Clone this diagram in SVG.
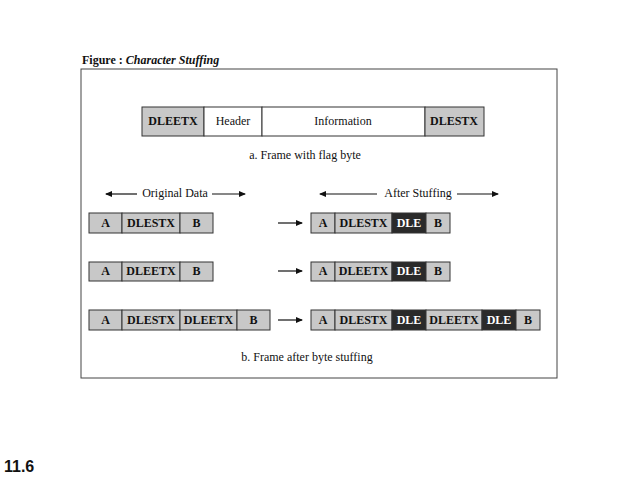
<svg xmlns="http://www.w3.org/2000/svg" width="638" height="478" viewBox="0 0 638 478">
<style>
.g{fill:#c8c8c8;stroke:#333;stroke-width:1}
.w{fill:#fff;stroke:#333;stroke-width:1}
.d{fill:#2a2a2a;stroke:#333;stroke-width:1}
text{font-family:"Liberation Serif",serif;font-size:12px;fill:#111}
.b{font-weight:bold;text-anchor:middle}
.c{text-anchor:middle}
.wt{fill:#fff}
.ln{stroke:#111;stroke-width:1.2;fill:none}
</style>
<defs><marker id="ah" markerWidth="6" markerHeight="6" refX="5" refY="3" orient="auto"><path d="M0,0.5 L6,3 L0,5.5 z" fill="#111"/></marker></defs>
<rect width="638" height="478" fill="#fff"/>
<text x="82" y="64" font-weight="bold">Figure : <tspan font-style="italic">Character Stuffing</tspan></text>
<rect x="81" y="69" width="476" height="309" fill="none" stroke="#444" stroke-width="1"/>
<g id="frame">
<rect class="g" x="142" y="107" width="62" height="29"/><text class="b" x="173" y="125">DLEETX</text>
<rect class="w" x="204" y="107" width="58" height="29"/><text class="c" x="233" y="125">Header</text>
<rect class="w" x="262" y="107" width="163" height="29"/><text class="c" x="343" y="125">Information</text>
<rect class="g" x="425" y="107" width="59" height="29"/><text class="b" x="454" y="125">DLESTX</text>
</g>
<text class="c" x="305" y="159">a.  Frame with flag byte</text>
<g id="connectors">
<line class="ln" x1="137" y1="194" x2="106" y2="194" marker-end="url(#ah)"/>
<line class="ln" x1="212" y1="194" x2="245" y2="194" marker-end="url(#ah)"/>
<line class="ln" x1="377" y1="194" x2="320" y2="194" marker-end="url(#ah)"/>
<line class="ln" x1="457" y1="194" x2="498" y2="194" marker-end="url(#ah)"/>
<line class="ln" x1="278" y1="223" x2="302" y2="223" marker-end="url(#ah)"/>
<line class="ln" x1="278" y1="271" x2="302" y2="271" marker-end="url(#ah)"/>
<line class="ln" x1="278" y1="320" x2="302" y2="320" marker-end="url(#ah)"/>
</g>
<text class="c" x="175" y="197">Original Data</text>
<text class="c" x="418" y="197">After Stuffing</text>
<g id="row1">
<rect class="g" x="89" y="213" width="33" height="20"/><text class="b" x="105.5" y="227">A</text>
<rect class="g" x="122" y="213" width="58" height="20"/><text class="b" x="151" y="227">DLESTX</text>
<rect class="g" x="180" y="213" width="33" height="20"/><text class="b" x="196.5" y="227">B</text>
<rect class="g" x="311" y="213" width="24" height="20"/><text class="b" x="323" y="227">A</text>
<rect class="g" x="335" y="213" width="57" height="20"/><text class="b" x="363.5" y="227">DLESTX</text>
<rect class="d" x="392" y="213" width="34" height="20"/><text class="b wt" x="409" y="227">DLE</text>
<rect class="g" x="426" y="213" width="24" height="20"/><text class="b" x="438" y="227">B</text>
</g>
<g id="row2">
<rect class="g" x="89" y="262" width="33" height="19"/><text class="b" x="105.5" y="275">A</text>
<rect class="g" x="122" y="262" width="58" height="19"/><text class="b" x="151" y="275">DLEETX</text>
<rect class="g" x="180" y="262" width="33" height="19"/><text class="b" x="196.5" y="275">B</text>
<rect class="g" x="311" y="262" width="24" height="19"/><text class="b" x="323" y="275">A</text>
<rect class="g" x="335" y="262" width="57" height="19"/><text class="b" x="363.5" y="275">DLEETX</text>
<rect class="d" x="392" y="262" width="34" height="19"/><text class="b wt" x="409" y="275">DLE</text>
<rect class="g" x="426" y="262" width="24" height="19"/><text class="b" x="438" y="275">B</text>
</g>
<g id="row3">
<rect class="g" x="89" y="310" width="33" height="20"/><text class="b" x="105.5" y="324">A</text>
<rect class="g" x="122" y="310" width="58" height="20"/><text class="b" x="151" y="324">DLESTX</text>
<rect class="g" x="180" y="310" width="57" height="20"/><text class="b" x="208.5" y="324">DLEETX</text>
<rect class="g" x="237" y="310" width="33" height="20"/><text class="b" x="253.5" y="324">B</text>
<rect class="g" x="311" y="310" width="24" height="20"/><text class="b" x="323" y="324">A</text>
<rect class="g" x="335" y="310" width="57" height="20"/><text class="b" x="363.5" y="324">DLESTX</text>
<rect class="d" x="392" y="310" width="34" height="20"/><text class="b wt" x="409" y="324">DLE</text>
<rect class="g" x="426" y="310" width="56" height="20"/><text class="b" x="454" y="324">DLEETX</text>
<rect class="d" x="482" y="310" width="34" height="20"/><text class="b wt" x="499" y="324">DLE</text>
<rect class="g" x="516" y="310" width="24" height="20"/><text class="b" x="528" y="324">B</text>
</g>
<text class="c" x="307" y="361">b.  Frame after byte stuffing</text>
<text x="4" y="472" style="font-family:'Liberation Sans',sans-serif;font-size:16px;font-weight:bold">11.6</text>
</svg>
